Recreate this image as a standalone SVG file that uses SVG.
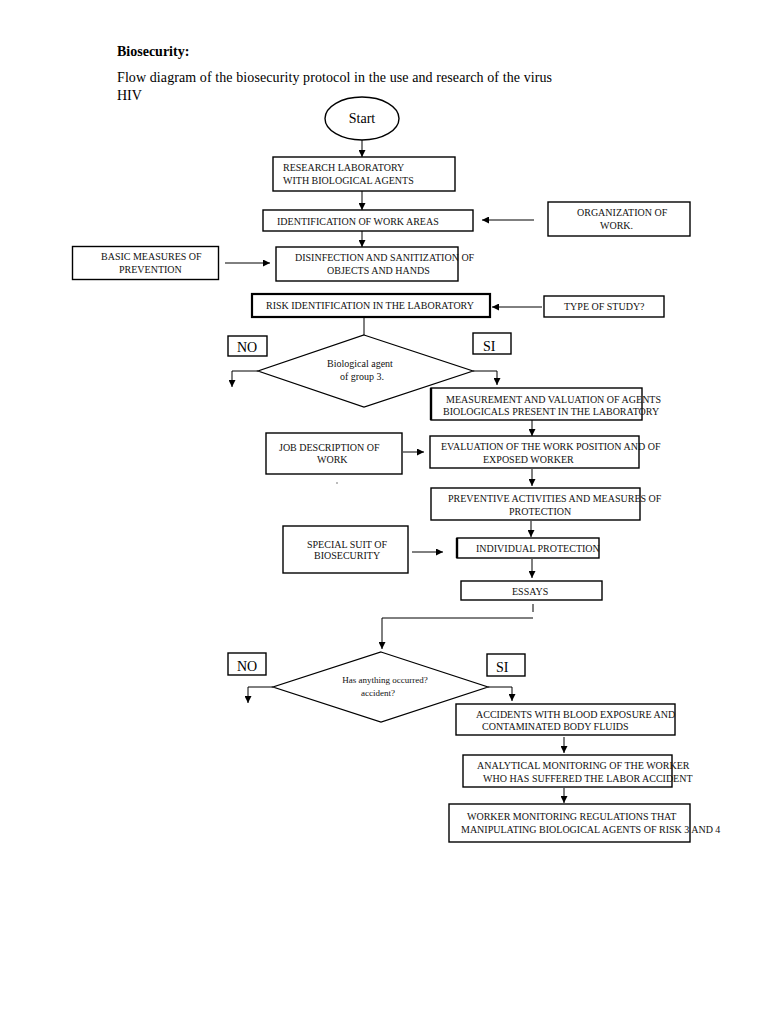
<svg xmlns="http://www.w3.org/2000/svg" width="768" height="1024" viewBox="0 0 768 1024">
<defs>
<marker id="ah" viewBox="0 0 8 8" refX="8" refY="4" markerWidth="7" markerHeight="7" orient="auto" markerUnits="userSpaceOnUse">
<path d="M0,0 L8,4 L0,8 z" fill="#000"/>
</marker>
</defs>
<style>
.box{fill:#fff;stroke:#000;stroke-width:1.4}
.thick{stroke-width:2.2}
.t{font-family:"Liberation Serif","Times New Roman",serif;font-size:10px;fill:#111}
.s{font-family:"Liberation Serif","Times New Roman",serif;font-size:9px;fill:#111}
.big{font-family:"Liberation Serif","Times New Roman",serif;font-size:14px;fill:#000}
.c{fill:none;stroke:#000;stroke-width:1}
.a{marker-end:url(#ah)}
</style>
<rect width="768" height="1024" fill="#fff"/>

<g id="title">
<text class="big" x="117" y="56" font-weight="bold">Biosecurity:</text>
<text class="big" x="117" y="82" textLength="435">Flow diagram of the biosecurity protocol in the use and research of the virus</text>
<text class="big" x="117" y="100">HIV</text>
</g>

<g id="connectors">
<line class="c a" x1="362" y1="140" x2="362" y2="157"/>
<line class="c a" x1="362" y1="191" x2="362" y2="210"/>
<line class="c a" x1="534" y1="220" x2="482" y2="220"/>
<line class="c a" x1="362" y1="231" x2="362" y2="247"/>
<line class="c a" x1="225" y1="263" x2="270" y2="263"/>
<line class="c a" x1="542" y1="307" x2="492" y2="307"/>
<line class="c" x1="364" y1="317" x2="364" y2="335"/>
<polyline class="c a" points="258,371 232,371 232,387"/>
<polyline class="c a" points="473,371 497,371 497,385"/>
<line class="c a" x1="532" y1="420" x2="532" y2="436"/>
<line class="c a" x1="403" y1="452" x2="424" y2="452"/>
<line class="c a" x1="532" y1="469" x2="532" y2="486"/>
<line class="c a" x1="531" y1="521" x2="531" y2="537"/>
<line class="c a" x1="412" y1="552" x2="443" y2="552"/>
<line class="c a" x1="532" y1="559" x2="532" y2="578"/>
<line class="c" x1="533" y1="604" x2="533" y2="612"/>
<polyline class="c a" points="533,618 382,618 382,649"/>
<polyline class="c a" points="273,687 248,687 248,703"/>
<polyline class="c a" points="488,687 512,687 512,701"/>
<line class="c a" x1="564" y1="737" x2="564" y2="753"/>
<line class="c a" x1="564" y1="788" x2="564" y2="803"/>
<circle cx="337" cy="483" r="0.8" fill="#666"/>
</g>

<g id="start">
<ellipse cx="362" cy="118.5" rx="37" ry="21.5" fill="#fff" stroke="#000" stroke-width="1.4"/>
<text class="big" x="362" y="123" text-anchor="middle">Start</text>
</g>

<g id="research-lab">
<rect class="box" x="273" y="157" width="182" height="34"/>
<text class="t" x="283" y="170.5">RESEARCH LABORATORY</text>
<text class="t" x="283" y="184">WITH BIOLOGICAL AGENTS</text>
</g>

<g id="work-areas">
<rect class="box" x="263" y="210" width="210" height="21"/>
<text class="t" x="277" y="224.5">IDENTIFICATION OF WORK AREAS</text>
</g>

<g id="organization">
<rect class="box" x="548" y="202" width="142" height="34"/>
<text class="t" x="577" y="216">ORGANIZATION OF</text>
<text class="t" x="600" y="229">WORK.</text>
</g>

<g id="basic-measures">
<rect class="box" x="72.5" y="246.5" width="146" height="33"/>
<text class="t" x="101" y="260">BASIC MEASURES OF</text>
<text class="t" x="119" y="273">PREVENTION</text>
</g>

<g id="disinfection">
<rect class="box" x="276" y="247" width="182" height="34"/>
<text class="t" x="295" y="261">DISINFECTION AND SANITIZATION OF</text>
<text class="t" x="327" y="274">OBJECTS AND HANDS</text>
</g>

<g id="risk-identification">
<rect class="box thick" x="252" y="294" width="238" height="23"/>
<text class="t" x="266" y="309">RISK IDENTIFICATION IN THE LABORATORY</text>
</g>

<g id="type-of-study">
<rect class="box" x="544" y="296" width="120" height="21"/>
<text class="t" x="564" y="310">TYPE OF STUDY?</text>
</g>

<g id="decision-group3">
<polygon points="364,335 473,371 364,407 258,371" fill="#fff" stroke="#000" stroke-width="1.2"/>
<text class="t" x="360" y="367" text-anchor="middle">Biological agent</text>
<text class="t" x="362" y="380" text-anchor="middle">of group 3.</text>
</g>

<g id="no-1">
<rect class="box" x="228" y="336" width="39" height="20" stroke-width="1.2"/>
<text class="big" x="237" y="352">NO</text>
</g>

<g id="si-1">
<rect class="box" x="473" y="333" width="38" height="21" stroke-width="1.2"/>
<text class="big" x="483" y="351">SI</text>
</g>

<g id="measurement">
<rect class="box" x="431" y="388" width="211" height="32"/>
<line x1="431" y1="388" x2="431" y2="420" stroke="#000" stroke-width="2.4"/>
<text class="t" x="446" y="403">MEASUREMENT AND VALUATION OF AGENTS</text>
<text class="t" x="443" y="415">BIOLOGICALS PRESENT IN THE LABORATORY</text>
</g>

<g id="job-description">
<rect class="box" x="266" y="433" width="136" height="41"/>
<text class="t" x="279" y="451">JOB DESCRIPTION OF</text>
<text class="t" x="317" y="463">WORK</text>
</g>

<g id="evaluation">
<rect class="box" x="430" y="436" width="209" height="32"/>
<text class="t" x="441" y="450">EVALUATION OF THE WORK POSITION AND OF</text>
<text class="t" x="483" y="463">EXPOSED WORKER</text>
</g>

<g id="preventive">
<rect class="box" x="431" y="488" width="209" height="32"/>
<text class="t" x="448" y="502">PREVENTIVE ACTIVITIES AND MEASURES OF</text>
<text class="t" x="509" y="515">PROTECTION</text>
</g>

<g id="special-suit">
<rect class="box" x="283" y="526" width="125" height="47"/>
<text class="t" x="307" y="548">SPECIAL SUIT OF</text>
<text class="t" x="314" y="559">BIOSECURITY</text>
</g>

<g id="individual-protection">
<rect class="box" x="457" y="538" width="142" height="20"/>
<line x1="457" y1="538" x2="457" y2="558" stroke="#000" stroke-width="2.4"/>
<text class="t" x="476" y="552">INDIVIDUAL PROTECTION</text>
</g>

<g id="essays">
<rect class="box" x="461" y="581" width="141" height="19"/>
<text class="t" x="512" y="595">ESSAYS</text>
</g>

<g id="decision-accident">
<polygon points="381,652 488,687 381,722 273,687" fill="#fff" stroke="#000" stroke-width="1.2"/>
<text class="s" x="385" y="683" text-anchor="middle">Has anything occurred?</text>
<text class="s" x="378" y="696" text-anchor="middle">accident?</text>
</g>

<g id="no-2">
<rect class="box" x="228" y="653" width="38" height="22" stroke-width="1.2"/>
<text class="big" x="237" y="671">NO</text>
</g>

<g id="si-2">
<rect class="box" x="487" y="654" width="38" height="22" stroke-width="1.2"/>
<text class="big" x="496" y="672">SI</text>
</g>

<g id="accidents">
<rect class="box" x="456" y="704" width="219" height="31"/>
<text class="t" x="476" y="717.5">ACCIDENTS WITH BLOOD EXPOSURE AND</text>
<text class="t" x="482" y="730">CONTAMINATED BODY FLUIDS</text>
</g>

<g id="analytical">
<rect class="box" x="463" y="755" width="209" height="32"/>
<text class="t" x="477" y="768.5">ANALYTICAL MONITORING OF THE WORKER</text>
<text class="t" x="483" y="782">WHO HAS SUFFERED THE LABOR ACCIDENT</text>
</g>

<g id="worker-monitoring">
<rect class="box" x="449" y="804" width="241" height="38"/>
<text class="t" x="467" y="820">WORKER MONITORING REGULATIONS THAT</text>
<text class="t" x="461" y="832.5">MANIPULATING BIOLOGICAL AGENTS OF RISK 3 AND 4</text>
</g>
</svg>
